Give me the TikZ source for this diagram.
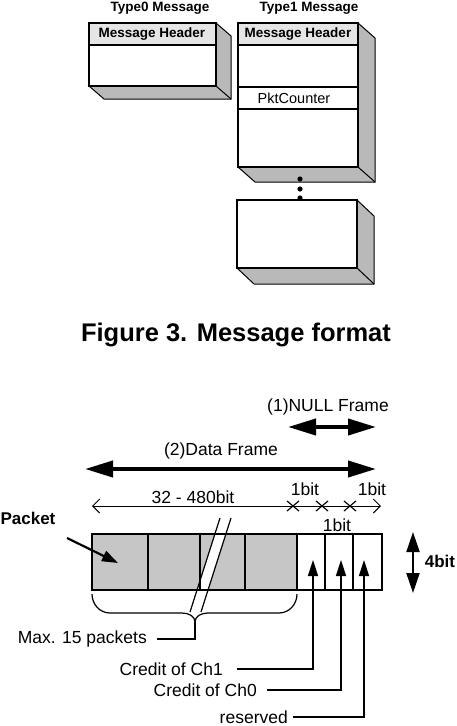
\documentclass[tikz,border=0pt]{standalone}
\usepackage{fontspec}
\setmainfont{Liberation Sans}
\usetikzlibrary{arrows.meta}
\newcommand\extrudebox[6]{%
  \filldraw[sideface] (#3,#2) -- ({#3+#5},{#2+#6}) -- ({#3+#5},{#4+#6}) -- ({#1+#5},{#4+#6}) -- (#1,#4) -- (#3,#4) -- cycle;
  \draw[sideface,fill=none] (#3,#4) -- ({#3+#5},{#4+#6});
  \filldraw[boxedge,fill=white] (#1,#2) rectangle (#3,#4);
}
\begin{document}
\begin{tikzpicture}[x=1pt,y=-1pt,
  lbl/.style={inner sep=0pt, font=\fontsize{17.5}{21}\selectfont},
  blbl/.style={inner sep=0pt, font=\bfseries\fontsize{13.5}{16}\selectfont},
  boxedge/.style={draw=black, line width=1.3pt},
  sideface/.style={draw=black, fill=gray!55, line width=1pt},
  hdrfill/.style={fill=gray!20},
  cellfill/.style={fill=gray!45},
  bigarrow/.style={line width=4pt, {Triangle[length=28pt,width=16pt]}-{Triangle[length=28pt,width=16pt]}},
  vertarrow/.style={line width=2pt, {Triangle[length=20pt,width=13pt]}-{Triangle[length=20pt,width=13pt]}},
  uparrow/.style={line width=1.5pt, -{Triangle[length=16pt,width=10pt]}},
  dimline/.style={line width=1pt, {Straight Barb[length=7pt,width=14pt]}-{Straight Barb[length=7pt,width=14pt]}},
  xmark/.style={line width=1.2pt},
  thin/.style={line width=1.2pt}]
\useasboundingbox (0,0) rectangle (456,726);

% ---------- Message format ----------
\node[blbl] (t0lbl) at (160,8) {Type0 Message};
\node[blbl] (t1lbl) at (309,8) {Type1 Message};

% Type0 box
\extrudebox{89}{23}{216}{86}{15}{13}
\filldraw[boxedge,hdrfill] (89,23) rectangle (216,45);
\node[blbl] (t0hdr) at (152,34) {Message Header};

% Type1 box
\extrudebox{238}{23}{358}{167}{17}{15}
\filldraw[boxedge,hdrfill] (238,23) rectangle (358,45);
\draw[boxedge] (238,87) -- (358,87);
\draw[boxedge] (238,109) -- (358,109);
\node[blbl] (t1hdr) at (298,34) {Message Header};
\node[inner sep=0pt, font=\fontsize{14.5}{17}\selectfont] (pkt) at (294,98) {PktCounter};

% dots
\fill (300,179) circle (2.6);
\fill (300,189) circle (2.6);
\fill (300,198) circle (2.6);

% continuation box
\extrudebox{237}{200}{357}{268}{17}{16}

% caption
\node[inner sep=0pt, anchor=base, font=\bfseries\fontsize{25.5}{30}\selectfont] (cap) at (236,341) {Figure 3. Message format};

% ---------- Frame format ----------
\node[lbl] (nulllbl) at (328,407) {(1)NULL Frame};
\coordinate (n1) at (288,427);
\coordinate (n2) at (376,427);
\draw[bigarrow] (n1) -- (n2);

\node[lbl] (datalbl) at (221,451) {(2)Data Frame};
\coordinate (d1) at (85,469);
\coordinate (d2) at (376,469);
\draw[bigarrow] (d1) -- (d2);

% dimension line
\node[lbl] (dimlbl) at (193,497) {32 - 480bit};
\coordinate (m1) at (92,506);
\coordinate (m2) at (381,506);
\draw[dimline] (m1) -- (m2);
\foreach \xx in {293,322,350}{
  \draw[xmark] (\xx-6,501) -- (\xx+6,511);
  \draw[xmark] (\xx-6,511) -- (\xx+6,501);
}
\node[lbl] (b1) at (305,489) {1bit};
\node[lbl] (b2) at (372,489) {1bit};
\node[lbl] (b3) at (337,525) {1bit};

% frame cells
\fill[cellfill] (92,534) rectangle (297,590);
\fill[white] (214.9,534) -- (225.9,534) -- (208,590) -- (197,590) -- cycle;
\draw[thin] (92,534) rectangle (382,590);
\foreach \xx in {148,200,245,297,325,353}{
  \draw[thin] (\xx,534) -- (\xx,590);
}
\draw[thin] (220,518) -- (190,612);
\draw[thin] (231,518) -- (201,612);

% packet label
\node[lbl, font=\bfseries\fontsize{17}{20}\selectfont] (packet) at (28,518) {Packet};
\coordinate (pk1) at (67,538);
\coordinate (pk2) at (118,563);
\draw[line width=2.2pt, -{Triangle[length=16pt,width=11pt]}] (pk1) -- (pk2);

% 4bit
\coordinate (v1) at (413,532);
\coordinate (v2) at (413,593);
\draw[vertarrow] (v1) -- (v2);
\node[lbl, font=\bfseries\fontsize{17}{20}\selectfont] (fourbit) at (440,561) {4bit};

% brace
\coordinate (bt) at (195,622);
\draw[thin] (92,594) to[out=-90,in=180] (110,613) -- (182,613) to[out=0,in=90] (bt)
  to[out=90,in=180] (208,613) -- (279,613) to[out=0,in=-90] (297,594);
\node[lbl, anchor=east] (maxlbl) at (147,639) {Max. 15 packets};
\draw[thin] (bt) |- ([xshift=10pt]maxlbl.east);

% credit arrows
\node[lbl, anchor=east] (ch1) at (223,669) {Credit of Ch1};
\node[lbl, anchor=east] (ch0) at (257,690) {Credit of Ch0};
\node[lbl, anchor=east] (resv) at (288,717) {reserved};
\coordinate (u1) at (313,560);
\coordinate (u2) at (341,560);
\coordinate (u3) at (364,560);
\draw[uparrow] ([xshift=14pt]ch1.east) -| (u1);
\draw[uparrow] ([xshift=10pt]ch0.east) -| (u2);
\draw[uparrow] ([xshift=5pt]resv.east) -| (u3);
\end{tikzpicture}
\end{document}
